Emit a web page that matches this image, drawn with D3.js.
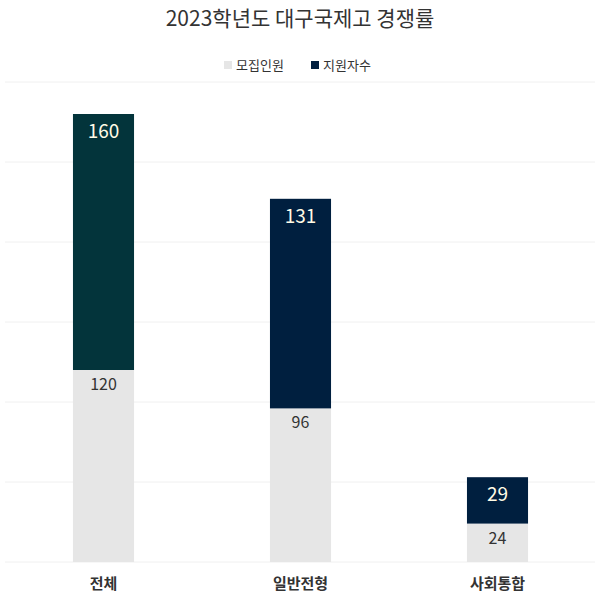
<!DOCTYPE html>
<html><head><meta charset="utf-8">
<script src="https://cdn.jsdelivr.net/npm/d3@7"></script>
<style>body{margin:0;background:#fff}text{font-family:"Noto Sans CJK KR","Noto Sans",sans-serif}</style>
</head><body><svg id="c" width="600" height="600"></svg>
<script>
const categories = ["전체","일반전형","사회통합"];
const recruit = [120,96,24];
const applicants = [160,131,29];
const seriesNames = ["모집인원","지원자수"];
const yTicks = [0,50,100,150,200,250,300];

const svg = d3.select("#c");
const x = d3.scaleBand().domain(categories).range([5,596]).paddingInner(0.69).paddingOuter(0.345);
const y = d3.scaleLinear().domain([0,300]).range([562,82]);

svg.append("g").selectAll("line").data(yTicks).join("line")
  .attr("x1",5).attr("x2",595).attr("y1",d=>y(d)).attr("y2",d=>y(d))
  .attr("stroke","#f0f0f0").attr("stroke-width",1);

const darkColors = ["#03343b","#001f3f","#001f3f"];
categories.forEach((c,i)=>{
  svg.append("rect").attr("x",x(c)).attr("width",x.bandwidth())
    .attr("y",y(recruit[i])).attr("height",y(0)-y(recruit[i])).attr("fill","#e6e6e6");
  svg.append("rect").attr("x",x(c)).attr("width",x.bandwidth())
    .attr("y",y(recruit[i]+applicants[i])).attr("height",y(0)-y(applicants[i])).attr("fill",darkColors[i]);
  svg.append("text").attr("x",x(c)+x.bandwidth()/2).attr("y",y(recruit[i])+20)
    .attr("text-anchor","middle").attr("font-size",16).attr("fill","#333").text(recruit[i]);
  svg.append("text").attr("x",x(c)+x.bandwidth()/2).attr("y",y(recruit[i]+applicants[i])+24)
    .attr("text-anchor","middle").attr("font-size",19).attr("fill","#fffbe6").text(applicants[i]);
  svg.append("text").attr("x",x(c)+x.bandwidth()/2).attr("y",589)
    .attr("text-anchor","middle").attr("font-size",15).attr("font-weight","bold").attr("fill","#333").text(c);
});

svg.append("text").attr("x",300).attr("y",26).attr("text-anchor","middle")
  .attr("font-size",21).attr("fill","#333").text("2023학년도 대구국제고 경쟁률");

const leg = [{n:seriesNames[0],c:"#e6e6e6",x:224},{n:seriesNames[1],c:"#001f3f",x:311}];
leg.forEach(l=>{
  svg.append("rect").attr("x",l.x).attr("y",61).attr("width",8).attr("height",8).attr("fill",l.c);
  svg.append("text").attr("x",l.x+12).attr("y",70).attr("font-size",13).attr("fill","#333").text(l.n);
});
</script></body></html>
